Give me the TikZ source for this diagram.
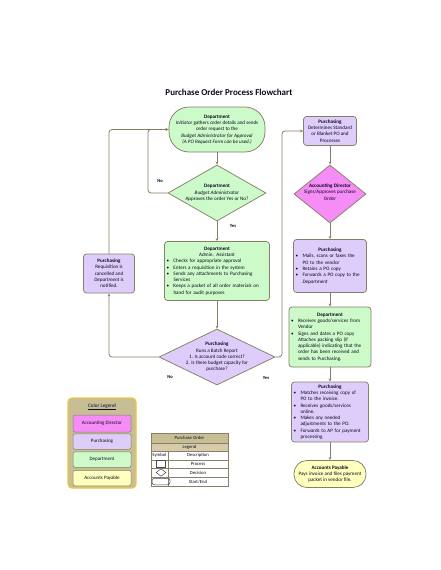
\documentclass[tikz,border=0pt]{standalone}
\usepackage{fontspec}
\setmainfont{Carlito}
\usetikzlibrary{arrows.meta,shapes.geometric}
\definecolor{gfill}{RGB}{204,250,200}
\definecolor{pfill}{RGB}{222,204,250}
\definecolor{kfill}{RGB}{246,140,246}
\definecolor{yfill}{RGB}{255,255,190}
\definecolor{edgec}{RGB}{135,128,104}
\definecolor{wire}{RGB}{135,125,100}
\definecolor{tanA}{RGB}{200,190,150}
\definecolor{tanB}{RGB}{214,204,172}
\definecolor{goldc}{RGB}{238,198,70}
\definecolor{txt}{RGB}{10,10,30}
\newcommand\bitem[1]{\par{\leftskip=7pt\noindent\llap{\hbox to 7pt{\textbullet\hfil}}#1\par}}
\begin{document}
\begin{tikzpicture}[x=1pt,y=-1pt,
  every node/.style={text=txt},
  small/.style={font=\fontsize{5.1}{6.3}\selectfont},
  boxc/.style={small, draw=edgec, line width=0.75pt, rounded corners=3pt, inner xsep=2pt, inner ysep=0pt, align=center},
  boxl/.style={small, draw=edgec, line width=0.75pt, rounded corners=3pt, inner xsep=2pt, inner ysep=0pt, align=left},
  dia/.style={draw=edgec, line width=0.75pt, shape=diamond, inner sep=0pt},
  dtext/.style={small, align=center, inner sep=0pt},
  wirel/.style={draw=wire, line width=0.75pt, rounded corners=3pt, -{Stealth[length=3pt,width=2.6pt]}},
  lab/.style={font=\fontsize{4.6}{5}\selectfont\bfseries, inner sep=0pt},
  leg/.style={draw=edgec, line width=0.5pt, rounded corners=2pt, font=\fontsize{5}{5.5}\selectfont, minimum width=58pt, minimum height=15.5pt, inner sep=0pt},
  pocell/.style={draw=edgec, line width=0.5pt, font=\fontsize{4.7}{5}\selectfont, inner sep=0pt}
]
\useasboundingbox (0,0) rectangle (440,570);
\fill[white] (0,0) rectangle (440,570);

\node[font=\fontsize{9}{10}\selectfont\bfseries, inner sep=0pt] (title) at (229,92) {Purchase Order Process Flowchart};

% left column
\node[boxc, fill=gfill, rounded corners=20pt, minimum width=96pt, minimum height=45pt] (start) at (217,129.5)
 {{\bfseries Department}\\\textit{Initiator} gathers order details and sends\\order request to the\\\textit{Budget Administrator for Approval}\\\textit{(A PO Request Form can be used.)}};

\node[dia, fill=gfill, minimum width=98pt, minimum height=56pt] (budget) at (217,193) {};
\node[dtext] (budgett) at (budget) {{\bfseries Department}\\\textit{Budget Administrator}\\Approves the order Yes or No?};

\node[boxl, fill=gfill, text width=101pt, minimum height=59pt] (admin) at (217,271)
 {{\centering{\bfseries Department}\\Admin. Assistant\par}
  \bitem{Checks for appropriate approval}
  \bitem{Enters a requisition in the system}
  \bitem{Sends any attachments to Purchasing\newline Services}
  \bitem{Keeps a packet of all order materials on\newline hand for audit purposes}};

\node[dia, fill=pfill, minimum width=116pt, minimum height=56pt] (batch) at (217,357) {};
\node[dtext] (batcht) at (batch) {{\bfseries Purchasing}\\Runs a Batch Report\\1. Is account code correct?\\2. Is there budget capacity for\\purchase?};

\node[boxc, fill=pfill, minimum width=51pt, minimum height=39pt] (cancel) at (109,273.5)
 {{\bfseries Purchasing}\\Requisition is\\cancelled and\\\textit{Department} is\\notified.};

% right column
\node[boxc, fill=pfill, minimum width=53pt, minimum height=29pt] (det) at (330,131)
 {{\bfseries Purchasing}\\Determines Standard\\or Blanket PO and\\Processes};

\node[dia, fill=kfill, minimum width=72pt, minimum height=58pt] (acct) at (330,194) {};
\node[dtext] (acctt) at (330,192) {{\bfseries Accounting Director}\\Signs/Approves purchase\\Order};

\node[boxl, fill=pfill, text width=69pt, minimum height=53pt] (mails) at (330,266)
 {{\centering\bfseries Purchasing\par}
  \bitem{Mails, scans or faxes the\newline PO to the vendor}
  \bitem{Retains a PO copy}
  \bitem{Forwards a PO copy to the\newline \textit{Department}}};

\node[boxl, fill=gfill, text width=78pt, minimum height=60pt] (recv) at (330,337)
 {{\centering\bfseries Department\par}
  \bitem{Receives goods/services from\newline Vendor}
  \bitem{Signs and dates a PO copy\newline Attaches packing slip (if\newline applicable) indicating that the\newline order has been received and\newline sends to Purchasing.}};

\node[boxl, fill=pfill, text width=73pt, minimum height=60pt] (match) at (330,412)
 {{\centering\bfseries Purchasing\par}
  \bitem{Matches receiving copy of\newline PO to the invoice.}
  \bitem{Receives goods/services\newline online.}
  \bitem{Makes any needed\newline adjustments to the PO.}
  \bitem{Forwards to AP for payment\newline processing}};

\node[boxc, fill=yfill, rounded corners=13pt, minimum width=72pt, minimum height=27pt] (ap) at (330,474)
 {{\bfseries Accounts Payable}\\Pays invoice and files payment\\packet in vendor file.};

% connectors
\path[wirel] (start) -- (budget);
\path[wirel] (budget) -- (admin);
\path[wirel] (admin) -- (batch);
\path[wirel] (budget.west) -- (148,193) |- (start.west);
\path[wirel] (cancel.north) |- (start.west);
\path[wirel] (batch.west) -| (cancel.south);
\path[wirel] (batch.east) -- (282,357) |- (det.west);
\path[wirel] (det) -- (acct);
\path[wirel] (acct) -- (mails);
\path[wirel] (mails) -- (recv);
\path[wirel] (recv) -- (match);
\path[wirel] (match) -- (ap);

\node[lab] (no1) at (160,181) {No};
\node[lab] (yes1) at (233,226) {Yes};
\node[lab] (no2) at (170,377) {No};
\node[lab] (yes2) at (266,378) {Yes};

% color legend
\node[draw=goldc, line width=1.2pt, fill=tanA, rounded corners=4pt, minimum width=68pt, minimum height=90pt, inner sep=0pt] (clegend) at (102,443) {};
\node[font=\fontsize{5.2}{6}\selectfont, inner sep=0pt] (cltitle) at (102,407) {\underline{Color Legend}};
\node[leg, fill=kfill, minimum height=17pt] (lg1) at (102,423.5) {Accounting Director};
\node[leg, fill=pfill] (lg2) at (102,441.5) {Purchasing};
\node[leg, fill=gfill] (lg3) at (102,459.5) {Department};
\node[leg, fill=yfill] (lg4) at (102,478) {Accounts Payable};

% PO legend
\node[pocell, fill=tanA, minimum width=77pt, minimum height=10pt] (po1) at (189.5,438) {Purchase Order};
\node[pocell, fill=tanB, minimum width=77pt, minimum height=8pt] (po2) at (189.5,447) {Legend};
\node[pocell, fill=white, minimum width=17pt, minimum height=9pt] (s1) at (159.5,455.5) {Symbol};
\node[pocell, fill=white, minimum width=60pt, minimum height=9pt] (d1) at (198,455.5) {Description};
\node[pocell, fill=white, minimum width=17pt, minimum height=8pt] (s2) at (159.5,464) {};
\node[pocell, fill=white, minimum width=60pt, minimum height=8pt] (d2) at (198,464) {Process};
\node[pocell, fill=white, minimum width=17pt, minimum height=9pt] (s3) at (159.5,472.5) {};
\node[pocell, fill=white, minimum width=60pt, minimum height=9pt] (d3) at (198,472.5) {Decision};
\node[pocell, fill=white, minimum width=17pt, minimum height=9pt] (s4) at (159.5,481.5) {};
\node[pocell, fill=white, minimum width=60pt, minimum height=9pt] (d4) at (198,481.5) {Start/End};
\node[draw=black!70, line width=0.5pt, minimum width=9pt, minimum height=7pt, inner sep=0pt] (symp) at (161,464) {};
\node[draw=black!70, line width=0.5pt, shape=diamond, minimum width=10pt, minimum height=7.5pt, inner sep=0pt] (symd) at (161,472.5) {};
\node[draw=black!70, line width=0.5pt, rounded corners=2.5pt, minimum width=18pt, minimum height=6.5pt, inner sep=0pt] (syms) at (161,481.5) {};
\end{tikzpicture}
\end{document}
